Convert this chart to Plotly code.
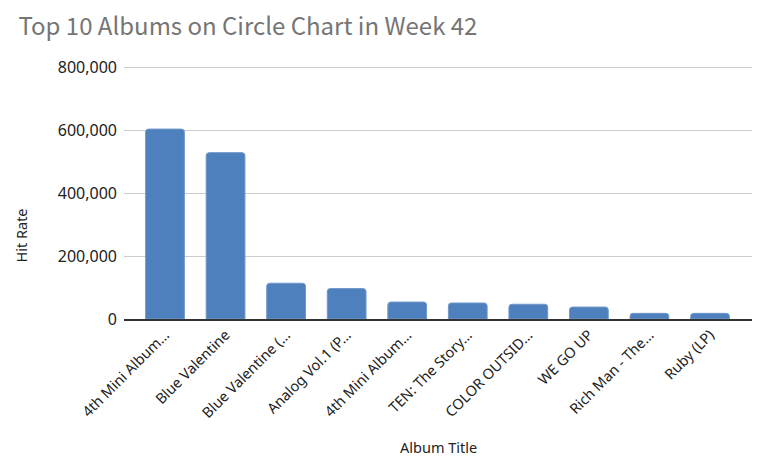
import plotly.graph_objects as go

albums = ["4th Mini Album…", "Blue Valentine", "Blue Valentine (…", "Analog Vol.1 (P…",
          "4th Mini Album…", "TEN: The Story…", "COLOR OUTSID…", "WE GO UP",
          "Rich Man - The…", "Ruby (LP)"]
hit_rate = [605000, 530000, 114000, 97000, 54000, 51000, 47000, 38000, 18000, 18000]
y_ticks = [0, 200000, 400000, 600000, 800000]
y_tick_labels = ["0", "200,000", "400,000", "600,000", "800,000"]

idx = list(range(len(albums)))

fig = go.Figure(go.Bar(
    x=idx, y=hit_rate, width=0.64,
    marker=dict(color="#4d80bd", line=dict(color="#6f98c9", width=1), cornerradius=3),
    hoverinfo="x+y",
))

fig.update_layout(
    width=768, height=470,
    margin=dict(l=124, r=16, t=66, b=151),
    paper_bgcolor="white", plot_bgcolor="white",
    showlegend=False,
    font=dict(family="Noto Sans", color="#222222", size=14),
    title=dict(text="Top 10 Albums on Circle Chart in Week 42",
               font=dict(family="Noto Sans CJK KR", size=24, color="#757575"),
               x=0.024, xanchor="left", y=0.962, yanchor="top"),
    xaxis=dict(range=[-0.677, 9.694], tickmode="array", tickvals=idx, ticktext=albums,
               tickangle=-45, showgrid=False, showline=True, linecolor="#333333",
               linewidth=1.5, ticks="", tickfont=dict(size=14.5, color="#222222"),
               fixedrange=True),
    yaxis=dict(range=[0, 806000], tickmode="array", tickvals=y_ticks, ticktext=y_tick_labels,
               showgrid=True, gridcolor="#cccccc", gridwidth=1, zeroline=False,
               showline=False, ticks="", tickfont=dict(size=16, color="#222222"),
               ticklabelstandoff=6),
    annotations=[
        dict(text="Hit Rate", xref="paper", yref="paper", x=-0.164, y=0.33,
             xanchor="center", yanchor="middle", textangle=-90, showarrow=False,
             font=dict(size=14.5, color="#222222")),
        dict(text="Album Title", xref="paper", yref="paper", x=0.5, y=-0.505,
             xanchor="center", yanchor="middle", showarrow=False,
             font=dict(size=14.5, color="#222222")),
    ],
)

fig.write_html("out.html")
